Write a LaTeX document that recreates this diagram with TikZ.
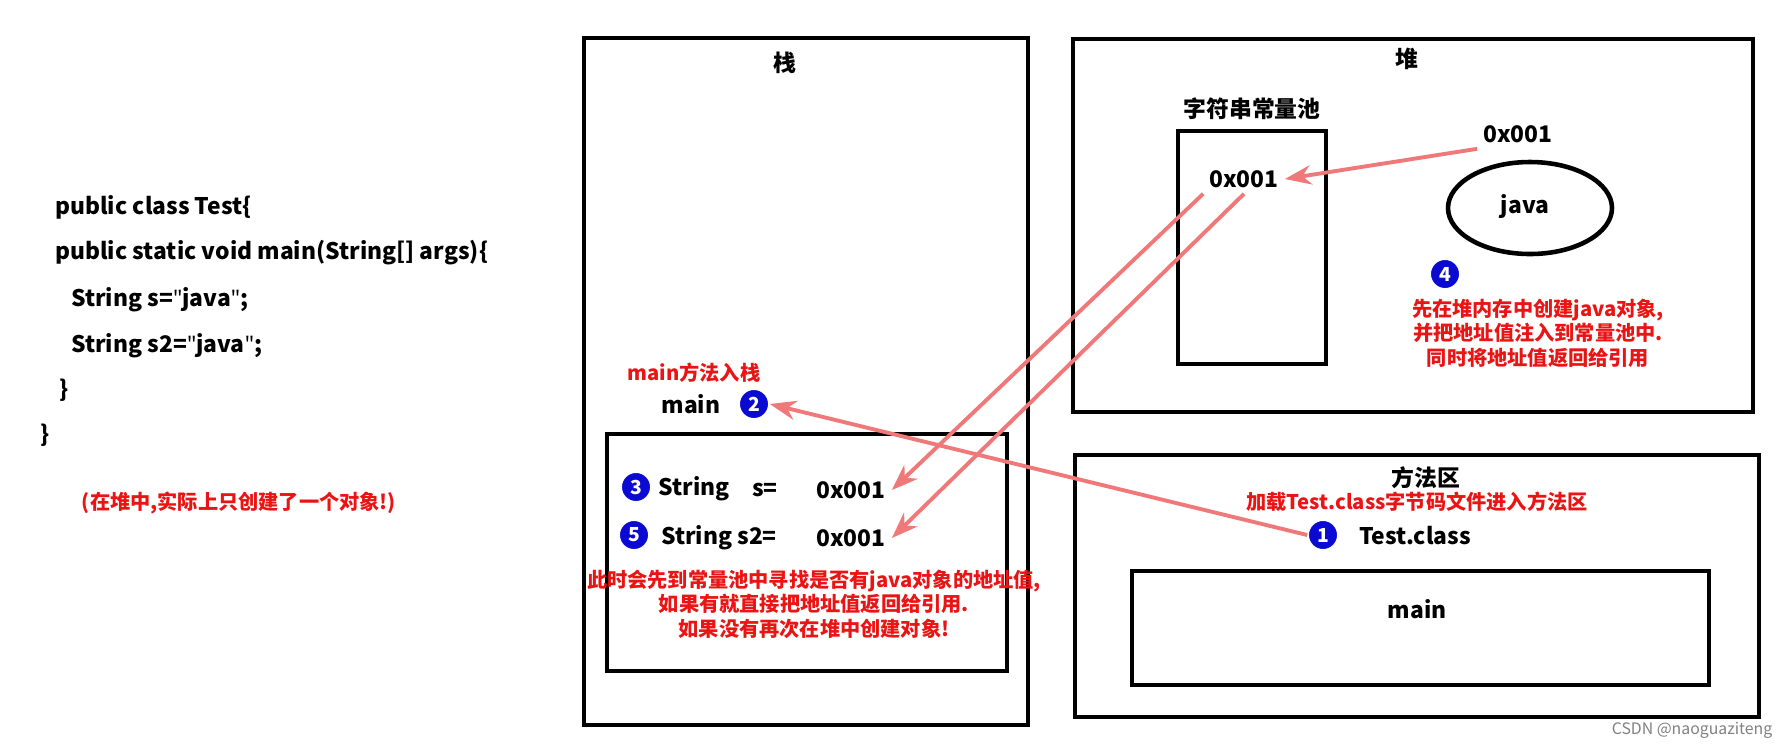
\documentclass[tikz,border=0pt]{standalone}
\usepackage{fontspec}
\setmainfont{Noto Sans CJK SC}
\newfontfamily\latinfont{Noto Sans}
\usetikzlibrary{arrows.meta, positioning}
\definecolor{ptrred}{RGB}{240,120,120}
\definecolor{notered}{RGB}{235,20,20}
\definecolor{stepblue}{RGB}{10,10,210}
\newcommand{\dq}{{\latinfont\bfseries\symbol{34}}}

\begin{document}
\begin{tikzpicture}[x=0.02cm, y=-0.02cm, font=\bfseries\fontsize{13}{15}\selectfont]
      % Styles
      \tikzset{area/.style={draw, line width=2.6pt}}
      \tikzset{code/.style={anchor=west, inner sep=0pt}}
      \tikzset{note/.style={text=notered, align=center, font=\bfseries\fontsize{11.5}{14}\selectfont}}
      \tikzset{stepnum/.style={circle, fill=stepblue, draw=white, line width=1pt, text=white, inner sep=0pt, minimum size=17pt, font=\bfseries\fontsize{11}{11}\selectfont}}
      \tikzset{ref/.style={-{Stealth[length=15pt, width=11pt]}, ptrred, line width=2.2pt}}
      \useasboundingbox (0,0) rectangle (1781,752);

      % --- The source code, on the left ---
      \node[code] (l1) at (55,207) {public class Test\{};
      \node[code] (l2) at (55,253) {public static void main(String[] args)\{};
      \node[code] (l3) at (71,300) {String s=\dq java\dq;};
      \node[code] (l4) at (71,346) {String s2=\dq java\dq;};
      \node[code] (l5) at (59,390) {\}};
      \node[code] (l6) at (40,435) {\}};
      \node[note] (once) at (239,503) {(在堆中,实际上只创建了一个对象!)};

      % --- The stack ---
      \draw[area] (584,38) rectangle (1028,725);
      \draw[area] (607,434) rectangle (1007,671);
      \node (stack) at (785,63) {栈};
      \node[note] (push) at (694,373) {main方法入栈};
      \node (mainf) at (691,404) {main};
      \node[stepnum] (n2) at (754,404) {2};
      \node[stepnum] (n3) at (636,487) {3};
      \node (str1) at (694,489) {String};
      \node (s1) at (765,490) {s=};
      \node (v1) at (851,490) {0x001};
      \node[stepnum] (n5) at (634,535) {5};
      \node (str2) at (719,538) {String s2=};
      \node (v2) at (851,538) {0x001};
      \node[note] (lookup) at (814,604) {此时会先到常量池中寻找是否有java对象的地址值,\\如果有就直接把地址值返回给引用.\\如果没有再次在堆中创建对象!};

      % --- The heap ---
      \draw[area] (1073,39) rectangle (1753,412);
      \draw[area] (1178,131) rectangle (1326,364);
      \node (heap) at (1407,59) {堆};
      \node (pool) at (1252,109) {字符串常量池};
      \node (addr) at (1518,134) {0x001};
      \node (pooladdr) at (1244,179) {0x001};
      \draw[area] (1530,208) ellipse (82 and 46);
      \node (obj) at (1525,207) {java};
      \node[stepnum] (n4) at (1445,274) {4};
      \node[note] (create) at (1538,333) {先在堆内存中创建java对象,\\并把地址值注入到常量池中.\\同时将地址值返回给引用};

      % --- The method area ---
      \draw[area] (1075,455) rectangle (1759,717);
      \draw[area] (1132,571) rectangle (1709,685);
      \node (method) at (1426,478) {方法区};
      \node[note] (load) at (1417,502) {加载Test.class字节码文件进入方法区};
      \node[stepnum] (n1) at (1323,535) {1};
      \node (cls) at (1415,536) {Test.class};
      \node (mainm) at (1417,609) {main};

      \node[text=gray, font=\fontsize{9}{9}\selectfont] (mark) at (1692,730) {CSDN @naoguaziteng};

      % --- The references ---
      \draw[ref] (addr.south west) -- (pooladdr.east);
      \draw[ref] (pooladdr.south west) -- (v1.east);
      \draw[ref] (pooladdr.south) -- (v2.east);
      \draw[ref] (n1.west) -- (n2.east);
    \end{tikzpicture}
\end{document}
